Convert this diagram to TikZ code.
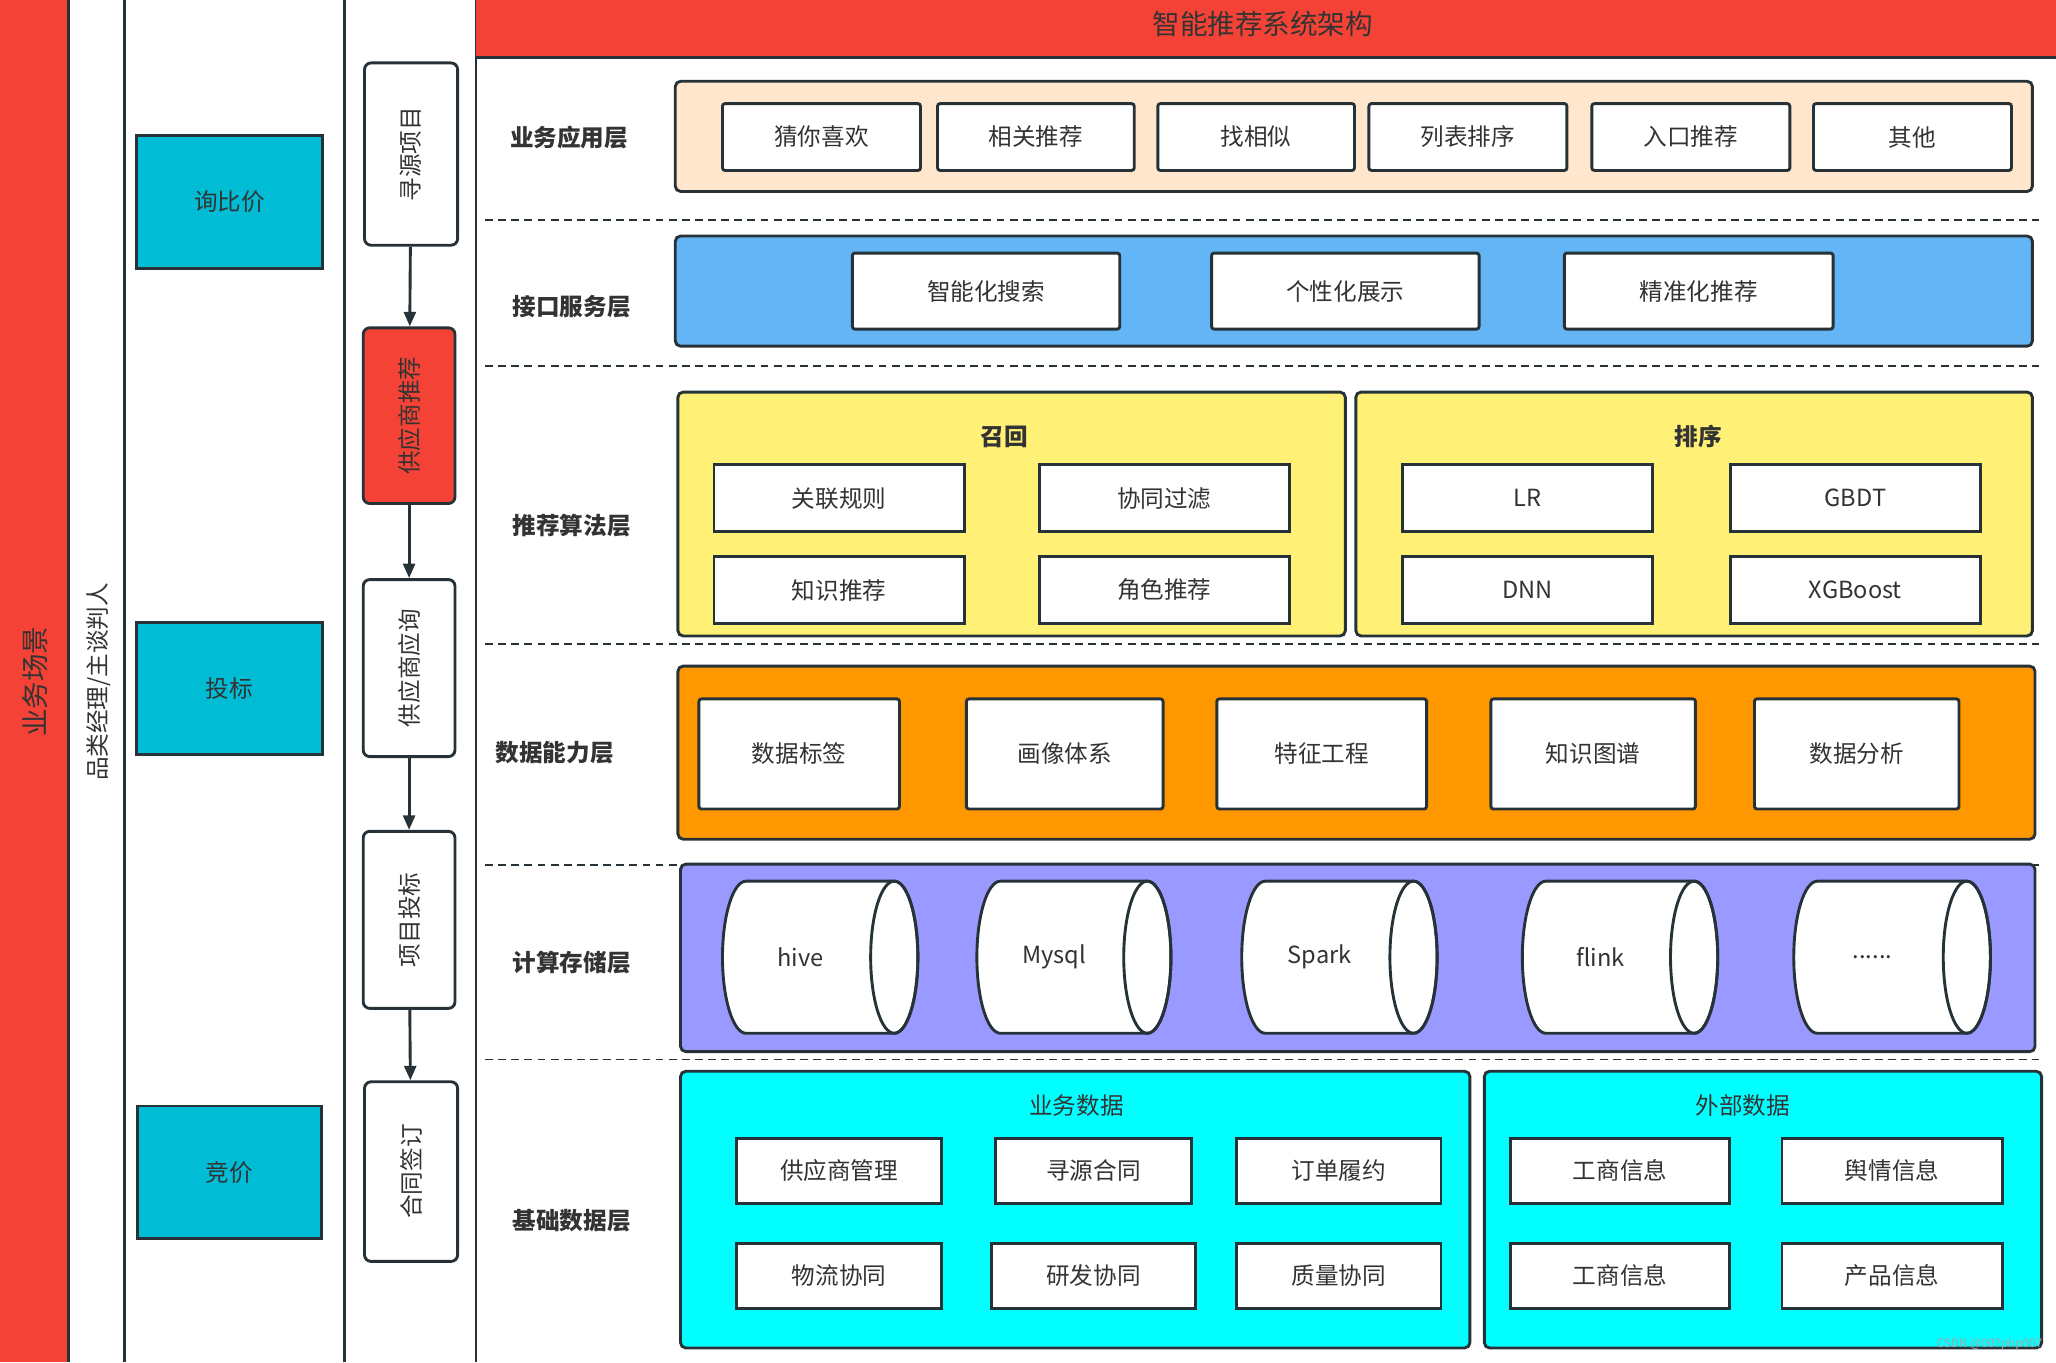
\documentclass[tikz,border=0pt]{standalone}
\usepackage{fontspec}
\setmainfont{Noto Sans CJK SC}
\usetikzlibrary{shapes.geometric,arrows.meta}
\definecolor{lred}{HTML}{F44336}
\definecolor{tcyan}{HTML}{00BCD4}
\definecolor{peach}{HTML}{FFE6CC}
\definecolor{lblue}{HTML}{64B5F6}
\definecolor{lyel}{HTML}{FFF176}
\definecolor{lorange}{HTML}{FF9800}
\definecolor{lpurp}{HTML}{9999FF}
\definecolor{lcyan}{HTML}{00FFFF}
\definecolor{edge}{HTML}{263238}
\definecolor{txt}{HTML}{333333}
\begin{document}
\begin{tikzpicture}[x=1pt,y=-1pt,line width=2.2pt,
  every node/.style={text=txt,font=\fontsize{18}{21}\selectfont},
  item/.style={draw=edge,fill=white,rounded corners=2pt},
  flow/.style={draw=edge,fill=white,rounded corners=5pt},
  lay/.style={draw=edge,rounded corners=4pt},
  lbl/.style={font=\fontsize{18}{21}\selectfont\bfseries},
  arr/.style={draw=edge,-{Triangle[length=11pt,width=9pt]}}]
\useasboundingbox (0,0) rectangle (1568,1039);
% left columns
\fill[lred] (0,0) rectangle (52,1039);
\node[rotate=90,font=\fontsize{21}{24}\selectfont] (scene) at (27,520) {业务场景};
\draw[edge] (52,0) -- (52,1039);
\draw[edge] (95,0) -- (95,1039);
\draw[edge] (263,0) -- (263,1039);
\draw[edge] (363,0) -- (363,1039);
\node[rotate=90] (role) at (75,520) {品类经理/主谈判人};
\node[draw=edge,fill=tcyan,minimum width=142pt,minimum height=101pt] (s1) at (175,154) {询比价};
\node[draw=edge,fill=tcyan,minimum width=142pt,minimum height=101pt] (s2) at (175,525) {投标};
\node[draw=edge,fill=tcyan,minimum width=140pt,minimum height=101pt] (s3) at (175,894) {竞价};
% flow
\node[flow,minimum width=71pt,minimum height=139pt] (f1) at (313.5,117.5) {\rotatebox{90}{寻源项目}};
\node[flow,fill=lred,minimum width=70pt,minimum height=134pt] (f2) at (312,317) {\rotatebox{90}{供应商推荐}};
\node[flow,minimum width=70pt,minimum height=135pt] (f3) at (312,509.5) {\rotatebox{90}{供应商应询}};
\node[flow,minimum width=70pt,minimum height=135pt] (f4) at (312,701.5) {\rotatebox{90}{项目投标}};
\node[flow,minimum width=71pt,minimum height=137pt] (f5) at (313.5,893.5) {\rotatebox{90}{合同签订}};
\draw[arr] (f1) -- (f2);
\draw[arr] (f2) -- (f3);
\draw[arr] (f3) -- (f4);
\draw[arr] (f4) -- (f5);
% title
\fill[lred] (363,0) rectangle (1568,44);
\draw[edge] (363,44) -- (1568,44);
\node[font=\fontsize{21}{24}\selectfont] (title) at (963,18) {智能推荐系统架构};
% labels
\node[lbl] (L1) at (434,105) {业务应用层};
\node[lbl] (L2) at (436,234) {接口服务层};
\node[lbl] (L3) at (436,401) {推荐算法层};
\node[lbl] (L4) at (423,574) {数据能力层};
\node[lbl] (L5) at (436,734) {计算存储层};
\node[lbl] (L6) at (436,931) {基础数据层};
\foreach \y in {168,279,491,660,808} \draw[edge,line width=1.5pt,dash pattern=on 6pt off 4pt] (370,\y) -- (1555,\y);
% layer 1
\draw[lay,fill=peach] (515,62) rectangle (1550,146);
\foreach \a/\b/\t [count=\i] in {551/702/猜你喜欢,715/865/相关推荐,883/1033/找相似,1044/1195/列表排序,1214/1365/入口推荐,1383/1534/其他}
  \node[item,minimum width=\b-\a,minimum height=51pt] (a\i) at ({(\a+\b)/2},104.5) {\t};
% layer 2
\draw[lay,fill=lblue] (515,180) rectangle (1550,264);
\foreach \a/\b/\t [count=\i] in {650/854/智能化搜索,924/1128/个性化展示,1193/1398/精准化推荐}
  \node[item,minimum width=\b-\a,minimum height=58pt] (b\i) at ({(\a+\b)/2},222) {\t};
% layer 3
\draw[lay,fill=lyel] (517,299) rectangle (1026,485);
\draw[lay,fill=lyel] (1034,299) rectangle (1550,485);
\node[lbl] (recall) at (766,333) {召回};
\node[lbl] (rank) at (1295,333) {排序};
\foreach \x/\y/\t [count=\i] in {640/380/关联规则,888/380/协同过滤,640/450/知识推荐,888/450/角色推荐,1165/380/LR,1415/380/GBDT,1165/450/DNN,1415/450/XGBoost}
  \node[item,rounded corners=0pt,minimum width=191pt,minimum height=51pt] (c\i) at (\x,\y) {\t};
% layer 4
\draw[lay,fill=lorange] (517,508) rectangle (1552,640);
\foreach \a/\b/\t [count=\i] in {533/686/数据标签,737/887/画像体系,928/1088/特征工程,1137/1293/知识图谱,1338/1494/数据分析}
  \node[item,minimum width=\b-\a,minimum height=84pt] (d\i) at ({(\a+\b)/2},575) {\t};
% layer 5
\draw[lay,fill=lpurp] (519,659) rectangle (1552,802);
\foreach \a/\b/\t [count=\i] in {551/700/hive,745/893/Mysql,947/1096/Spark,1161/1310/flink,1368/1518/{......}}{
  \draw[edge,fill=white] (\a+18,672) -- (\b-18,672) arc(270:450:18 and 58) -- (\a+18,788) arc(90:270:18 and 58) -- cycle;
  \draw[edge] (\b-18,730) ellipse (18 and 58);
  \node (e\i) at ({(\a+\b)/2-15},730) {\t};
}
% layer 6
\draw[lay,fill=lcyan] (519,817) rectangle (1121,1028);
\draw[lay,fill=lcyan] (1132,817) rectangle (1557,1028);
\node (biz) at (821,843) {业务数据};
\node (ext) at (1329,843) {外部数据};
\foreach \a/\b/\y/\t [count=\i] in {562/718/893/供应商管理,759/909/893/寻源合同,943/1099/893/订单履约,562/718/973/物流协同,756/912/973/研发协同,943/1099/973/质量协同,1152/1319/893/工商信息,1359/1527/893/舆情信息,1152/1319/973/工商信息,1359/1527/973/产品信息}
  \node[item,rounded corners=0pt,minimum width=\b-\a,minimum height=50pt] (g\i) at ({(\a+\b)/2},\y) {\t};
\node[text=gray!70,font=\fontsize{9}{10}\selectfont,anchor=east] (wm) at (1562,1025) {CSDN @007php007};
\end{tikzpicture}
\end{document}
